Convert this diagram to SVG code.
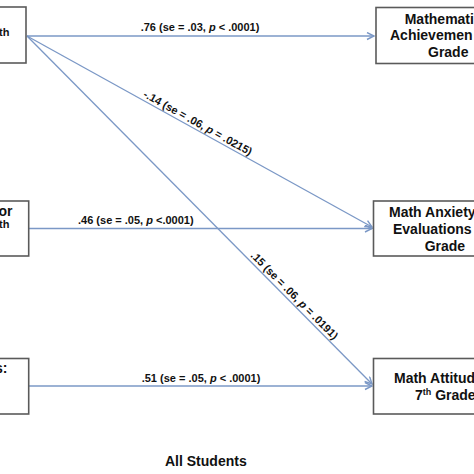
<svg xmlns="http://www.w3.org/2000/svg" width="474" height="474" viewBox="0 0 474 474">
<defs>
<style>
.box{fill:#fff;stroke:#5a5a5a;stroke-width:1.6}
.ln{stroke:#7b98c6;stroke-width:1.3;fill:none;marker-end:url(#ah)}
.t{font-family:"Liberation Sans",Arial,sans-serif;font-weight:bold;fill:#111}
.big{font-size:14px}
.sm{font-size:11px}
.lab{font-family:"Liberation Sans",Arial,sans-serif;font-weight:bold;font-size:11px;fill:#111}
</style>
<marker id="ah" markerWidth="10" markerHeight="10" refX="8" refY="4" orient="auto" markerUnits="userSpaceOnUse">
<path d="M1,0.5 L8,4 L1,7.5" fill="none" stroke="#7b98c6" stroke-width="1.4"/>
</marker>
</defs>
<rect width="474" height="474" fill="#fff"/>
<g id="connectors">
<line class="ln" x1="27" y1="36" x2="374" y2="36"/>
<line class="ln" x1="27" y1="36" x2="372" y2="227"/>
<line class="ln" x1="27" y1="36" x2="372" y2="384"/>
<line class="ln" x1="29" y1="228.5" x2="372" y2="228.5"/>
<line class="ln" x1="29" y1="386" x2="372" y2="386"/>
<text class="lab" x="140.7" y="31">.76 (se = .03, <tspan font-style="italic">p</tspan> &lt; .0001)</text>
<text class="lab" x="78" y="224">.46 (se = .05, <tspan font-style="italic">p</tspan> &lt;.0001)</text>
<text class="lab" x="141.7" y="382">.51 (se = .05, <tspan font-style="italic">p</tspan> &lt; .0001)</text>
<text class="lab" transform="translate(142.5,96.5) rotate(29)">-.14 (se = .06, <tspan font-style="italic">p</tspan> = .0215)</text>
<text class="lab" transform="translate(250,256) rotate(45.25)">.15 (se = .06, <tspan font-style="italic">p</tspan> = .0191)</text>
</g>
<g id="left1">
<rect class="box" x="-20" y="7" width="46" height="56"/>
<text class="t sm" x="9.5" y="36" text-anchor="end">rth</text>
</g>
<g id="left2">
<rect class="box" x="-20" y="201" width="48.7" height="55"/>
<text class="t big" x="12.5" y="216" text-anchor="end">or</text>
<text class="t sm" x="9.5" y="228" text-anchor="end">rth</text>
</g>
<g id="left3">
<rect class="box" x="-20" y="358.5" width="48.7" height="55.5"/>
<text class="t big" x="7.5" y="373" text-anchor="end">s:</text>
</g>
<g id="right1">
<rect class="box" x="376" y="7.5" width="120" height="56"/>
<text class="t big" x="404.7" y="23.5">Mathemati</text>
<text class="t big" x="390" y="40">Achievemen</text>
<text class="t big" x="428" y="57">Grade</text>
</g>
<g id="right2">
<rect class="box" x="373.5" y="201" width="120" height="55"/>
<text class="t big" x="389" y="216.5">Math Anxiety</text>
<text class="t big" x="393" y="233.5">Evaluations</text>
<text class="t big" x="424.7" y="251">Grade</text>
</g>
<g id="right3">
<rect class="box" x="373.5" y="358.5" width="120" height="55.5"/>
<text class="t big" x="394" y="383">Math Attitud</text>
<text class="t big" x="415" y="400">7<tspan font-size="9px" dy="-5">th</tspan><tspan dy="5"> Grade</tspan></text>
</g>
<text class="t big" x="165" y="466">All Students</text>
</svg>
